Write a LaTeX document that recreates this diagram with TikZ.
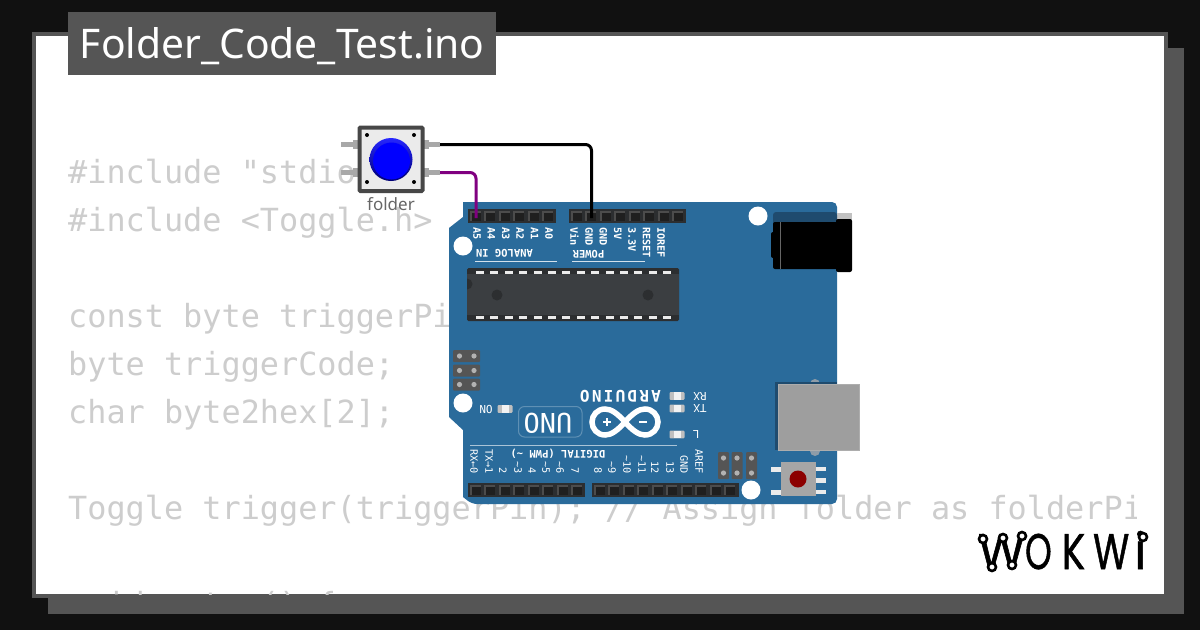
\documentclass[tikz,border=0pt]{standalone}
\usepackage{fontspec}
\setmainfont{Noto Sans}
\newfontfamily\codefont{DejaVu Sans Mono}
\newfontfamily\logofont[FakeBold=1.2]{Poppins}
\newfontfamily\arduinofont[LetterSpace=14]{DejaVu Sans Mono}
\definecolor{pagebg}{HTML}{111111}
\definecolor{framegray}{HTML}{555555}
\definecolor{codegray}{HTML}{CDCDCD}
\definecolor{boardblue}{HTML}{2A6B9B}
\definecolor{boarddark}{HTML}{1F4B6E}
\definecolor{chipgray}{HTML}{3B3E41}
\definecolor{chipdark}{HTML}{2C2E30}
\definecolor{wirepurple}{HTML}{800080}
\definecolor{pingray}{HTML}{A8A8A8}
\definecolor{knobgray}{HTML}{8E9CA8}
\tikzset{
  codeline/.style={anchor=base west,inner sep=0pt,text=codegray,font=\codefont\fontsize{31.85}{32}\selectfont},
  toplabel/.style={anchor=west,rotate=-90,inner sep=0pt,text=white,font=\codefont\bfseries\fontsize{10.2}{10}\selectfont},
  botlabel/.style={anchor=east,rotate=-90,inner sep=0pt,text=white,font=\codefont\fontsize{10.2}{10}\selectfont},
  flipped/.style={rotate=180,inner sep=0pt,text=white,font=\codefont\bfseries\fontsize{10.5}{10}\selectfont},
  smallflip/.style={rotate=180,inner sep=0pt,text=white,font=\codefont\fontsize{11}{10}\selectfont},
  wire/.style={line width=3pt,rounded corners=6pt},
  hole/.style={circle,fill=white,inner sep=0pt,minimum size=19pt},
  tipring/.style={circle,draw=black,line width=2.6pt,fill=white,inner sep=0pt,minimum size=8pt},
}
% one header strip: left edge, top edge, number of pins
\newcommand{\headerstrip}[3]{
  \fill[fill=chipdark] (#1,#2) rectangle ++({14.55*#3+1},14);
  \foreach \k in {1,...,#3}{
    \fill[fill=black!70] ({#1+1.5+14.55*(\k-1)},#2+2) rectangle ++(11,10);
    \fill[fill=black!88] ({#1+3.5+14.55*(\k-1)},#2+4) rectangle ++(9,8);
  }
}
% one small led on the board
\newcommand{\boardled}[2]{
  \fill[fill=black!25,rounded corners=1pt] (#1-7.5,#2-3.8) rectangle ++(15,7.6);
  \fill[fill=black!5] (#1-3.5,#2-3.8) rectangle ++(7,7.6);
}
\begin{document}
\begin{tikzpicture}[x=1pt,y=-1pt]
  \useasboundingbox (0,0) rectangle (1200,630);
  % Frame
  \fill[fill=pagebg] (0,0) rectangle (1200,630);
  \fill[fill=framegray] (48,48) rectangle (1184,614);
  \fill[fill=framegray] (32,32) rectangle (1168,598);
  \fill[fill=white] (36,36) rectangle (1164,594);
  % Code behind the circuit
  \begin{scope}
    \clip (36,36) rectangle (1136,594);
    \node[codeline] (line1) at (68,183) {\#include "stdio.h"};
    \node[codeline] (line2) at (68,231) {\#include <Toggle.h>};
    \node[codeline] (line3) at (68,327) {const byte triggerPi};
    \node[codeline] (line4) at (68,375) {byte triggerCode;};
    \node[codeline] (line5) at (68,423) {char byte2hex[2];};
    \node[codeline] (line6) at (68,519) {Toggle trigger(triggerPin); // Assign folder as folderPi};
    \node[codeline] (line7) at (68,615) {void setup() \{};
  \end{scope}
  % Title
  \node[anchor=north west,fill=framegray,minimum width=428pt,minimum height=63pt,inner sep=0pt] (titlebox) at (68,12) {};
  \node[text=white,inner sep=0pt,font=\fontsize{40.8}{41}\selectfont] (title) at ([yshift=-2pt]titlebox.center) {Folder\_Code\_Test.ino};
  % Board
  \fill[fill=boardblue,rounded corners=5pt] (470,202) -- (837,202) -- (837,504) -- (472,504)
    [sharp corners] -- (463,497) -- (463,430) -- (449,417) -- (449,228) -- (463,217) -- (463,202) [rounded corners=5pt] -- cycle;
  \node[hole] (hole1) at (463,246) {};
  \node[hole] (hole2) at (758,216) {};
  \node[hole] (hole3) at (463,403) {};
  \node[hole] (hole4) at (751,490) {};
  % Headers
  \headerstrip{468}{209}{6}
  \headerstrip{569}{209}{8}
  \headerstrip{468}{483}{8}
  \headerstrip{592}{483}{10}
  % Chip
  \fill[fill=chipdark,rounded corners=1.5pt] (467,268) rectangle (679,321);
  \fill[fill=chipgray] (467,274) rectangle (679,315);
  \foreach \k in {0,...,13}{
    \fill[fill=black!8] ({476+14.4*\k},270.5) rectangle ++(8,3);
    \fill[fill=black!8] ({476+14.4*\k},315.5) rectangle ++(8,3);
  }
  \fill[fill=chipdark] (497,295) circle (5.5);
  \fill[fill=chipdark] (648,295) circle (5.5);
  \fill[fill=chipdark] (467,289.5) arc (90:-90:5.5) -- cycle;
  % Power jack
  \fill[fill=pingray!70] (837,213) rectangle (852,222);
  \fill[fill=boarddark,rounded corners=3pt] (773,212) rectangle (837,240);
  \fill[fill=black,rounded corners=2pt] (771,232) rectangle (776,258);
  \fill[fill=black,rounded corners=2pt] (773,222) rectangle (838,269);
  \fill[fill=black,rounded corners=2pt] (836,219) rectangle (852,272);
  \draw[draw=black!60,line width=.5pt] (780,222) -- (780,269);
  % USB socket
  \fill[fill=knobgray] (815,384) circle (5);
  \fill[fill=knobgray] (815,451) circle (5);
  \fill[fill=boarddark] (775,382) rectangle (837,450);
  \fill[fill=black!38,draw=black!32,line width=1pt] (778.5,384.5) rectangle (859.5,450.5);
  % Reset button
  \foreach \py in {467,490}{\fill[fill=black!8] (771,\py) rectangle ++(10,4.5);}
  \foreach \py in {466.5,478,489.5}{\fill[fill=black!8] (816,\py) rectangle ++(10,4.5);}
  \fill[fill=black!35] (781,462) rectangle (816,496);
  \fill[fill=red!55!black] (798,479) circle (8.5);
  % Small pin blocks
  \foreach \py in {350,364.5,378.5}{
    \fill[fill=framegray,rounded corners=1pt] (453,\py) rectangle ++(27,12);
    \fill[fill=black!30] (459.5,\py+6) circle (2.6);
    \fill[fill=black!30] (474,\py+6) circle (2.6);
  }
  \foreach \px in {718,731.5,746}{
    \fill[fill=framegray,rounded corners=1pt] (\px,452) rectangle ++(11,27);
    \fill[fill=black!30] (\px+5.5,458) circle (2.6);
    \fill[fill=black!30] (\px+5.5,473) circle (2.6);
  }
  % Leds
  \boardled{505}{409}
  \boardled{677}{396}
  \boardled{677}{408.5}
  \boardled{677}{434.5}
  % Pin labels
  \foreach \px/\lab [count=\i] in {477/A5,491.4/A4,505.8/A3,520.2/A2,534.6/A1,549/A0,574.5/Vin,589/GND,603.3/GND,617.7/5V,632/3.3V,646.5/RESET,661/IOREF}
    \node[toplabel] (top\i) at (\px,227) {\lab};
  \foreach \px/\lab [count=\i] in {474/RX←0,489/TX→1,503/2,518/\textasciitilde3,532/4,546/\textasciitilde5,560/\textasciitilde6,575/7,598/8,612/\textasciitilde9,627/\textasciitilde10,642/\textasciitilde11,655/12,670/13,684/GND,699/AREF}
    \node[botlabel] (bot\i) at (\px,474) {\lab};
  \node[flipped] (analog) at (504.5,253.5) {ANALOG IN};
  \node[flipped] (power) at (588.5,254) {POWER};
  \node[flipped] (digital) at (558,453.5) {DIGITAL (PWM \textasciitilde)};
  \draw[draw=white!80!boardblue,line width=1pt] (475,261) -- (557,261);
  \draw[draw=white!80!boardblue,line width=1pt] (572,261) -- (645,261);
  \draw[draw=white!60!boardblue,line width=1pt] (470,445) -- (677,445);
  \node[smallflip] (rxlabel) at (700,396.5) {RX};
  \node[smallflip] (txlabel) at (700,409) {TX};
  \node[smallflip] (llabel) at (696,434.5) {L};
  \node[smallflip] (onlabel) at (486,409.5) {ON};
  % Arduino logo
  \node[rotate=180,inner sep=0pt,text=white,font=\arduinofont\bfseries\fontsize{16}{16}\selectfont] (arduino) at (620.5,396) {ARDUINO};
  \draw[draw=white!25!boardblue,line width=1pt,rounded corners=6pt] (518.5,406.5) rectangle (582,437);
  \node[rotate=180,inner sep=0pt,text=white,font=\codefont\fontsize{27}{27}\selectfont] (uno) at (548,423) {UNO};
  \draw[draw=white,line width=5.5pt] (625,422) .. controls (617,413) and (611,409) .. (605,409)
    .. controls (597.5,409) and (592,415) .. (592,422) .. controls (592,429) and (597.5,435) .. (605,435)
    .. controls (611,435) and (617,431) .. (625,422) .. controls (633,413) and (639,409) .. (645,409)
    .. controls (652.5,409) and (658,415) .. (658,422) .. controls (658,429) and (652.5,435) .. (645,435)
    .. controls (639,435) and (633,431) .. (625,422) -- cycle;
  \draw[draw=white,line width=2.5pt] (603,422) -- (611,422) (607,418) -- (607,426);
  \draw[draw=white,line width=2.5pt] (639,422) -- (647,422);
  % Pushbutton
  \foreach \py in {144.5,172.5}{
    \fill[fill=pingray] (341,\py-2.5) rectangle (358,\py+2.5);
    \fill[fill=pingray] (353,\py-4.5) rectangle (358,\py+4.5);
    \fill[fill=pingray] (424,\py-2.5) rectangle (440,\py+2.5);
    \fill[fill=pingray] (424,\py-4.5) rectangle (429,\py+4.5);
  }
  \draw[draw=black!72,fill=black!8,line width=4pt,rounded corners=1pt] (359.5,127.5) rectangle (422.5,191);
  \foreach \px/\py in {367/135,414/135,367/182,414/182}
    \fill[fill=black] (\px,\py) circle (2);
  \shade[top color=blue!85!white,bottom color=blue!45!black] (391,159.5) circle (21.5);
  \fill[fill=blue] (391.5,161) circle (18.5);
  \node[inner sep=0pt,text=black!60,font=\fontsize{17}{17}\selectfont] (folder) at (391,204.5) {folder};
  % Connect nodes
  \coordinate (btn1) at (440,144.5);
  \coordinate (btn2) at (440,172.5);
  \coordinate (gnd) at (591.5,218);
  \coordinate (a5) at (476,218);
  \draw[wire,draw=black] (btn1) -| (gnd);
  \draw[wire,draw=wirepurple] (btn2) -| (a5);
  % Wokwi mark
  \node[anchor=base west,inner sep=0pt,text=black,font=\logofont\fontsize{50}{50}\selectfont] (wokwi) at (978,569)
    {\scalebox{.96}[1]{W}\scalebox{.68}[1]{O}\hspace{10pt}\scalebox{.78}[1]{K}\hspace{8pt}\scalebox{.74}[1]{W}\hspace{5pt}i};
  \foreach \px/\py [count=\i] in {983/539,1003/538,1022/536,992/567,1012/565,1143/537}
    \node[tipring] (tip\i) at (\px,\py) {};
\end{tikzpicture}
\end{document}
